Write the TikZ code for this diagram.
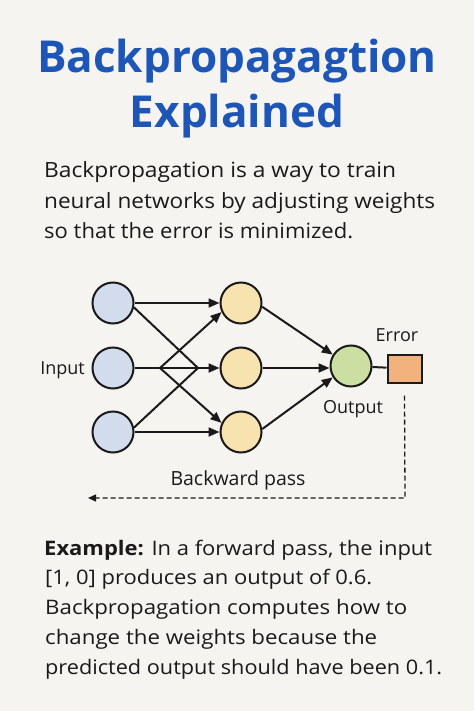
\documentclass[tikz,border=0pt]{standalone}
\usepackage{graphicx}
\usepackage{fontspec}
\setmainfont{Open Sans}
\usetikzlibrary{arrows.meta}
\definecolor{bg}{HTML}{F5F4F0}
\definecolor{ttl}{HTML}{1E56B8}
\definecolor{inb}{HTML}{D3DCEC}
\definecolor{hid}{HTML}{F7E3AF}
\definecolor{outg}{HTML}{CBDFA2}
\definecolor{errc}{HTML}{F2B27E}
\definecolor{ink}{HTML}{1A1A1A}
\newcommand\fitline[2]{\resizebox{#1pt}{\height}{#2}}
\begin{document}
\begin{tikzpicture}[x=1pt,y=-1pt,
 neuron/.style={circle,draw=ink,line width=2pt,minimum size=41pt,inner sep=0pt},
 conn/.style={draw=ink,line width=2pt},
 arr/.style={conn,-{Triangle[length=11pt,width=9pt]}},
 ttlstyle/.style={font=\fontsize{44}{50}\selectfont\bfseries,text=ttl,inner sep=0pt,anchor=base},
 body/.style={font=\fontsize{21}{30}\selectfont,text=ink,anchor=base west,inner sep=0pt},
 exbody/.style={font=\fontsize{20}{30}\selectfont,text=ink,anchor=base west,inner sep=0pt},
 lbl/.style={font=\fontsize{18}{20}\selectfont,text=ink,inner sep=0pt}]
\fill[bg] (0,0) rectangle (474,711);
\useasboundingbox (0,0) rectangle (474,711);
% title
\node[ttlstyle] (t1) at (237,73) {Backpropagagtion};
\node[ttlstyle] (t2) at (237,128) {Explained};
% intro
\node[body] (p1) at (44,178) {\fitline{352}{Backpropagation is a way to train}};
\node[body] (p2) at (44,208) {\fitline{391}{neural networks by adjusting weights}};
\node[body] (p3) at (44,238) {\fitline{309}{so that the error is minimized.}};
% network
\node[neuron,fill=inb] (I1) at (113,303) {};
\node[neuron,fill=inb] (I2) at (113,368) {};
\node[neuron,fill=inb] (I3) at (113,432) {};
\node[neuron,fill=hid] (H1) at (241,303) {};
\node[neuron,fill=hid] (H2) at (241,368) {};
\node[neuron,fill=hid] (H3) at (241,432) {};
\node[neuron,fill=outg] (O) at (351,366) {};
\node[draw=ink,line width=2pt,fill=errc,minimum width=34pt,minimum height=28pt,inner sep=0pt] (E) at (404.5,368.5) {};
\coordinate (b1) at (160,368);
\coordinate (m2) at (198,368);
\draw[arr] (I1) -- (H1);
\draw[arr] (I2) -- (H2);
\draw[arr] (I3) -- (H3);
\draw[conn] (I1.-12) -- (m2);
\draw[conn] (I3.12) -- (m2);
\draw[arr] (b1) -- (H1.205);
\draw[arr] (b1) -- (H3.155);
\draw[arr] (H1.-10) -- (O.148);
\draw[arr] (H2.east) -- (O.west |- H2.east);
\draw[arr] (H3.8) -- (O.212);
\draw[conn] (O) -- (E);
% labels
\node[lbl,anchor=base east] (lin) at (85,374) {Input};
\node[lbl,anchor=base] (lerr) at (397,341) {Error};
\node[lbl,anchor=base] (lout) at (353,413) {Output};
\node[lbl,anchor=base,font=\fontsize{19.5}{22}\selectfont] (lbp) at (238,485) {Backward pass};
% backward pass
\coordinate (d1) at (405,498);
\coordinate (d2) at (88,498);
\draw[ink,line width=1.3pt,dash pattern=on 5pt off 3pt,-{Triangle[length=8pt,width=7pt]}] (E.south) ++(0,12) -- (d1) -- (d2);
% example
\node[exbody] (q1) at (44,555) {\fitline{388}{\textbf{Example:} In a forward pass, the input}};
\node[exbody] (q2) at (45,584) {\fitline{327}{[1, 0] produces an output of 0.6.}};
\node[exbody] (q3) at (45,614) {\fitline{362}{Backpropagation computes how to}};
\node[exbody] (q4) at (45,644) {\fitline{332}{change the weights because the}};
\node[exbody] (q5) at (45,674) {\fitline{397}{predicted output should have been 0.1.}};
\end{tikzpicture}
\end{document}
